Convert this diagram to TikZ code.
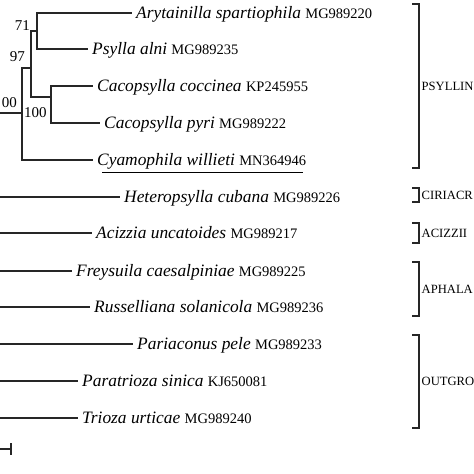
\documentclass[tikz,border=0pt]{standalone}
\usepackage{fontspec}
\setmainfont{Liberation Serif}
\usetikzlibrary{positioning,calc}
\tikzset{
  branch/.style={line width=1.3pt,draw=black!85},
  brk/.style={line width=1.3pt,draw=black!85},
  leaf/.style={anchor=west,inner xsep=4pt,inner ysep=0pt,text height=13pt,text depth=3pt,
    font=\fontsize{17.4}{20}\selectfont\itshape},
  bs/.style={inner sep=0pt,font=\fontsize{15}{17}\selectfont},
  grp/.style={anchor=west,inner sep=0pt,font=\fontsize{12.6}{15}\selectfont},
}
\newcommand{\acc}[1]{{\upshape\fontsize{14.5}{16}\selectfont #1}}

\begin{document}
\begin{tikzpicture}[x=1pt,y=-1pt]
  \useasboundingbox (0,0) rectangle (474,474);
  % leaves
  \foreach \n/\x/\y/\sp/\ac in {ary/132/13/Arytainilla spartiophila/MG989220,
      psy/88/49/Psylla alni/MG989235, coc/93/86/Cacopsylla coccinea/KP245955,
      pyr/100/123/Cacopsylla pyri/MG989222, cya/93/160/Cyamophila willieti/MN364946,
      het/120/197/Heteropsylla cubana/MG989226, aci/92/233/Acizzia uncatoides/MG989217,
      fre/72/271/Freysuila caesalpiniae/MG989225, rus/90/307/Russelliana solanicola/MG989236,
      par/133/344/Pariaconus pele/MG989233, ptr/78/381/Paratrioza sinica/KJ650081,
      tri/78/418/Trioza urticae/MG989240}{
    \node[leaf] (\n) at (\x,\y) {\sp\ \acc{\ac}};
  }
  \draw[line width=1pt] ([xshift=9pt,yshift=-4pt]cya.south west) -- ([xshift=-7pt,yshift=-4pt]cya.south east);
  % internal nodes
  \coordinate (n71) at (37,31);
  \coordinate (ncac) at (51,97);
  \coordinate (n97) at (31,68);
  \coordinate (n100) at (22,113);
  \coordinate (root) at (0,113);
  \draw[branch] (n71) |- (ary.west);
  \draw[branch] (n71) |- (psy.west);
  \draw[branch] (ncac) |- (coc.west);
  \draw[branch] (ncac) |- (pyr.west);
  \draw[branch] (n97) |- (n71);
  \draw[branch] (n97) |- (ncac);
  \draw[branch] (n100) |- (n97);
  \draw[branch] (n100) |- (cya.west);
  \draw[branch] (root) -- (n100);
  \foreach \n in {het,aci,fre,rus,par,ptr,tri}{
    \coordinate (r\n) at (0,0 |- \n.west);
    \draw[branch] (r\n) -- (\n.west);
  }
  % bootstrap values
  \node[bs,anchor=south east] (b71) at (30,31) {71};
  \node[bs,anchor=south east] (b97) at (25,62) {97};
  \node[bs,anchor=north west] (bcac) at (24,107) {100};
  \node[bs,anchor=south east] (broot) at (17,108) {00};
  % groups
  \foreach \g/\t/\b/\lab in {psyl/4/168/PSYLLIN, ciri/188/202/CIRIACR, aciz/223/243/ACIZZII,
      apha/262/316/APHALA, outg/335/428/OUTGRO}{
    \coordinate (\g t) at (419,\t);
    \coordinate (\g b) at (419,\b);
    \draw[brk] ([xshift=-7pt]\g t) -- (\g t) -- (\g b) -- ([xshift=-7pt]\g b);
    \node[grp] (\g) at ($(\g t)!0.5!(\g b)+(2.5,0)$) {\lab};
  }
  % scale bar
  \coordinate (sbl) at (0,449);
  \coordinate (sbr) at (11,449);
  \draw[branch] (sbl) -- (sbr);
  \draw[branch] ([yshift=6pt]sbr) -- ([yshift=-6pt]sbr);
\end{tikzpicture}
\end{document}
